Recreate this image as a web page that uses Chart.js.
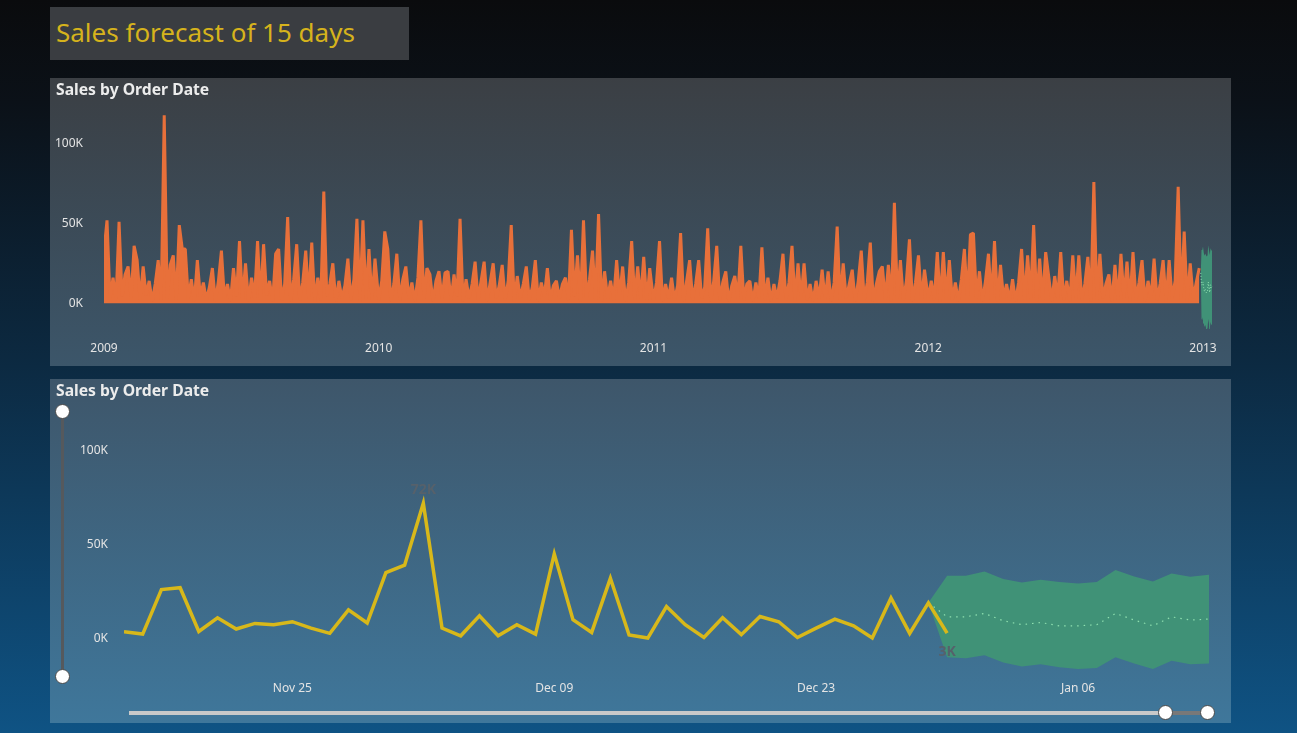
<!DOCTYPE html>
<html>
<head>
<meta charset="UTF-8">
<title>Sales forecast of 15 days</title>
<script src="https://cdn.jsdelivr.net/npm/chart.js@4.4.1/dist/chart.umd.min.js"></script>
<style>
    html, body { margin: 0; padding: 0; }
    body {
        width: 1297px; height: 733px; overflow: hidden; position: relative;
        background: linear-gradient(180deg, #0a0b0d 0%, #0b1118 14%, #0c2a42 50%, #0f5384 100%);
        font-family: "Noto Sans", sans-serif;
    }
    .header { position: absolute; left: 50px; top: 7px; width: 359px; height: 53px; background: #3a3d41; }
    .header h1 { margin: 0; position: absolute; left: 6px; top: 8px; font-size: 26px; font-weight: normal; color: #d6b31c; line-height: 34px; white-space: nowrap; }
    .panel { position: absolute; left: 50px; width: 1181px; }
    #panel-top { top: 78px; height: 288px; background: linear-gradient(180deg, #3b3f44, #3c566a); }
    #panel-bottom { top: 379px; height: 344px; background: linear-gradient(180deg, #3e566a, #3f779b); }
    .panel-title { position: absolute; left: 6px; top: 1px; font-size: 15.7px; font-weight: bold; color: #ececec; line-height: 20px; z-index: 2; }
    .plot { position: absolute; left: 0; top: 0; width: 100%; height: 100%; }
    .vtrack { position: absolute; left: 10.5px; top: 33px; width: 3px; height: 265px; background: #55595d; z-index: 2; }
    .htrack { position: absolute; left: 79px; top: 332px; width: 1037px; height: 4px; background: #c9c9c9; z-index: 2; }
    .hsel { position: absolute; left: 1116px; top: 332px; width: 42px; height: 4px; background: #787878; z-index: 2; }
    .knob { position: absolute; width: 13px; height: 13px; border-radius: 50%; background: #fff; border: 1.5px solid #4a4a4a; z-index: 3; }
</style>
</head>
<body>
    <div class="header"><h1>Sales forecast of 15 days</h1></div>

    <div class="panel" id="panel-top">
        <div class="panel-title">Sales by Order Date</div>
        <div class="plot"><canvas id="plot-top"></canvas></div>
    </div>

    <div class="panel" id="panel-bottom">
        <div class="panel-title">Sales by Order Date</div>
        <div class="plot"><canvas id="plot-bottom"></canvas></div>
        <!-- sliders -->
        <div class="vtrack"></div>
        <div class="knob" style="left:4.5px; top:25px;"></div>
        <div class="knob" style="left:4.5px; top:290px;"></div>
        <div class="htrack"></div>
        <div class="hsel"></div>
        <div class="knob" style="left:1108px; top:326px;"></div>
        <div class="knob" style="left:1150px; top:326px;"></div>
    </div>

<script>
// sales in thousands, one reading every 4 days of each year
const stepDays = 4;
const years = [2009, 2010, 2011, 2012];
const sales2009 = [33, 52, 3, 16, 2, 51, 4, 18, 23, 3, 36, 27, 2, 23, 5, 14, 1, 12, 27, 2,
    118, 3, 24, 30, 2, 49, 34, 34, 3, 15, 1, 27, 4, 13, 2, 10, 22, 1, 14, 33,
    3, 12, 1, 22, 4, 39, 2, 25, 1, 16, 3, 39, 2, 37, 5, 14, 1, 31, 34, 2,
    12, 54, 1, 15, 37, 2, 13, 33, 3, 38, 1, 16, 2, 70, 4, 12, 25, 1, 14, 3,
    11, 28, 2, 15, 53, 1, 52, 3, 34, 2, 28];
const sales2010 = [2, 14, 45, 34, 1, 12, 31, 2, 15, 23, 3, 13, 1, 16, 52, 2, 22, 18, 1, 14,
    20, 3, 19, 20, 2, 18, 4, 53, 1, 15, 3, 12, 26, 2, 14, 26, 1, 13, 25, 3,
    11, 24, 2, 14, 49, 1, 17, 3, 12, 23, 2, 10, 27, 1, 13, 4, 22, 2, 11, 14,
    3, 12, 16, 2, 46, 4, 30, 1, 52, 3, 15, 33, 2, 56, 1, 20, 3, 14, 2, 27,
    4, 23, 1, 13, 39, 2, 23, 3, 29, 1, 22];
const sales2011 = [2, 13, 39, 1, 12, 3, 16, 2, 11, 44, 1, 14, 27, 2, 12, 27, 3, 10, 47, 1,
    14, 36, 2, 13, 20, 1, 11, 17, 3, 36, 2, 12, 14, 1, 13, 3, 35, 2, 16, 1,
    12, 3, 14, 31, 2, 13, 36, 1, 25, 3, 25, 2, 12, 1, 14, 3, 21, 2, 20, 1,
    13, 48, 2, 25, 3, 12, 21, 1, 14, 33, 2, 13, 38, 1, 12, 20, 23, 2, 24, 1,
    63, 3, 27, 2, 14, 40, 1, 13, 30, 2, 21];
const sales2012 = [3, 14, 2, 32, 1, 32, 3, 27, 2, 13, 1, 15, 34, 2, 43, 44, 3, 20, 1, 14,
    31, 2, 39, 1, 24, 3, 12, 2, 15, 1, 13, 34, 2, 30, 3, 49, 1, 28, 2, 32,
    17, 1, 17, 3, 32, 2, 14, 1, 30, 3, 30, 2, 12, 29, 1, 76, 2, 31, 3, 12,
    18, 1, 24, 2, 31, 3, 26, 1, 32, 2, 13, 27, 1, 14, 3, 28, 2, 12, 27, 1,
    27, 3, 14, 73, 2, 45, 1, 25, 3, 13, 22];
const yearTicks = [2009, 2010, 2011, 2012, 2013];

// zoomed view, day offsets counted from Nov 25 2012
const actualStart = -9;
const actualSales = [3.5, 2.3, 26, 27, 3.7, 11, 5, 8, 7.3, 8.9, 5.5, 2.7, 15.2, 8.2, 35,
    39, 72, 5.5, 1.4, 12, 1.4, 7.3, 2.3, 45, 10, 3.2, 32, 1.8, 0.2, 17,
    7.3, 0.5, 11, 2, 11.7, 8.9, 0.5, 5.5, 10.3, 6.7, 0.2, 21.5, 2.7, 19, 2.8];
const forecastStart = 34;
const forecastUpper = [19, 33.3, 33.3, 35.6, 31.6, 29.8, 31.2, 30, 29.3, 30, 36.4, 33, 30.3, 34.6, 32.8, 33.9];
const forecastLower = [19, -10, -10.6, -8.9, -12.8, -15, -13.7, -15.4, -16.3, -15.8, -10, -13.3, -16.3, -11.9, -13.7, -13.3];
const forecastMid = [19, 11.5, 11.5, 13.3, 9.4, 7.3, 8.5, 6.7, 6.7, 7.3, 13.3, 9.8, 6.7, 11.5, 9.8, 10.3];
const dayTicks = [0, 14, 28, 42];
const dayTickLabels = ['Nov 25', 'Dec 09', 'Dec 23', 'Jan 06'];
const salesTicks = [0, 50, 100];

Chart.defaults.font.family = '"Noto Sans", sans-serif';
Chart.defaults.font.size = 12;
Chart.defaults.color = '#e4e4e4';

const orange = '#e8703a';
const yellow = '#d8b81a';
const band = '#409277';
const bandLine = '#8fe0b0';

// position of Nov 25 2012 on the yearly axis (2012 has 366 days)
const dayToYear = d => 2012 + (329 + d) / 366;

const history = [];
[sales2009, sales2010, sales2011, sales2012].forEach((arr, k) => {
    arr.forEach((v, i) => history.push({ x: years[k] + i * stepDays / 365, y: v }));
});

const seriesFrom = (arr, start, mapX) => arr.map((v, i) => ({ x: mapX(start + i), y: v }));
const same = d => d;

const baseScales = (xMin, xMax, xTicks, xLabel, yWidth, yPad, xHeight, xPad) => ({
    x: {
        type: 'linear', min: xMin, max: xMax,
        grid: { display: false, drawTicks: false, tickLength: 0 }, border: { display: false },
        afterBuildTicks: s => { s.ticks = xTicks.map(v => ({ value: v })); },
        afterFit: s => { s.height = xHeight; },
        ticks: { padding: xPad, maxRotation: 0, autoSkip: false, callback: xLabel }
    },
    y: {
        min: -20, max: 120,
        grid: { display: false, drawTicks: false, tickLength: 0 }, border: { display: false },
        afterBuildTicks: s => { s.ticks = salesTicks.map(v => ({ value: v })); },
        afterFit: s => { s.width = yWidth; },
        ticks: { padding: yPad, callback: v => v + 'K' }
    }
});

const plot_top = new Chart(document.getElementById('plot-top'), {
    type: 'line',
    data: {
        datasets: [
            { data: seriesFrom(forecastMid, forecastStart, dayToYear), borderColor: bandLine, borderWidth: 1, borderDash: [1, 2], pointRadius: 0 },
            { data: seriesFrom(forecastUpper, forecastStart, dayToYear), borderWidth: 0, pointRadius: 0, fill: '+1', backgroundColor: band },
            { data: seriesFrom(forecastLower, forecastStart, dayToYear), borderWidth: 0, pointRadius: 0 },
            { data: history, borderColor: orange, borderWidth: 3, borderJoinStyle: 'bevel', pointRadius: 0, fill: 'origin', backgroundColor: orange }
        ]
    },
    options: {
        responsive: true, maintainAspectRatio: false, animation: false, events: [],
        layout: { padding: { left: 0, right: 17, top: 34, bottom: 0 } },
        plugins: { legend: { display: false }, tooltip: { enabled: false } },
        scales: baseScales(2009, 2013.04, yearTicks, v => String(v), 54, 21, 31, 6)
    }
});

// value labels on the highest and the last actual point
const pointLabels = {
    id: 'pointLabels',
    afterDatasetsDraw(chart) {
        const meta = chart.getDatasetMeta(0);
        const ctx = chart.ctx;
        const maxIdx = actualSales.indexOf(Math.max(...actualSales));
        const lastIdx = actualSales.length - 1;
        ctx.save();
        ctx.font = 'bold 14px "Noto Sans"';
        ctx.fillStyle = '#56616b';
        ctx.textAlign = 'center';
        ctx.textBaseline = 'middle';
        [[maxIdx, -13], [lastIdx, 19]].forEach(([i, dy]) => {
            const p = meta.data[i];
            ctx.fillText(Math.round(actualSales[i]) + 'K', p.x, p.y + dy);
        });
        ctx.restore();
    }
};

const plot_bottom = new Chart(document.getElementById('plot-bottom'), {
    type: 'line',
    data: {
        datasets: [
            { data: seriesFrom(actualSales, actualStart, same), borderColor: yellow, borderWidth: 3.5, borderJoinStyle: 'miter', pointRadius: 0 },
            { data: seriesFrom(forecastMid, forecastStart, same), borderColor: bandLine, borderWidth: 1.2, borderDash: [1.5, 5], pointRadius: 0 },
            { data: seriesFrom(forecastUpper, forecastStart, same), borderWidth: 0, pointRadius: 0, fill: '+1', backgroundColor: band },
            { data: seriesFrom(forecastLower, forecastStart, same), borderWidth: 0, pointRadius: 0 }
        ]
    },
    options: {
        responsive: true, maintainAspectRatio: false, animation: false, events: [],
        layout: { padding: { left: 0, right: 22, top: 34, bottom: 0 } },
        plugins: { legend: { display: false }, tooltip: { enabled: false } },
        scales: baseScales(-9, 49, dayTicks, v => dayTickLabels[dayTicks.indexOf(v)], 74, 16, 47, 5)
    },
    plugins: [pointLabels]
});
</script>
</body>
</html>
